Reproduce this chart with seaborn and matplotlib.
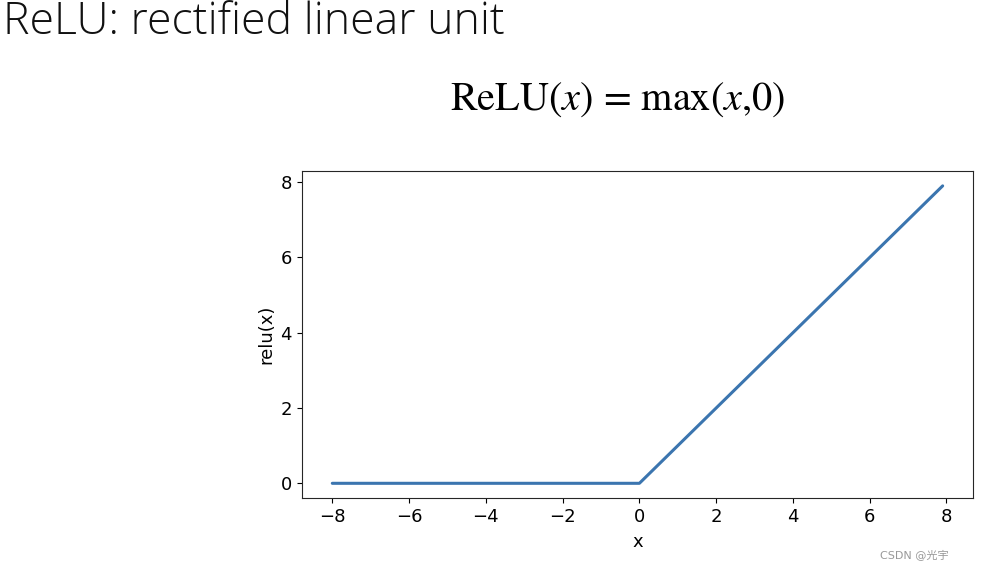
import matplotlib
matplotlib.use('Agg')
import matplotlib.pyplot as plt
import seaborn as sns
import pandas as pd

# breakpoints of the relu curve
x_vals = [-8.0, 0.0, 7.9]
y_vals = [0.0, 0.0, 7.9]
x_ticks = [-8, -6, -4, -2, 0, 2, 4, 6, 8]
y_ticks = [0, 2, 4, 6, 8]

sns.set_style('ticks')
plt.rcParams['font.family'] = ['DejaVu Sans', 'Noto Sans CJK SC']
plt.rcParams['mathtext.fontset'] = 'stix'
plt.rcParams['text.color'] = 'black'
plt.rcParams['axes.labelcolor'] = 'black'
plt.rcParams['xtick.color'] = 'black'
plt.rcParams['ytick.color'] = 'black'

data = pd.DataFrame({'x': x_vals, 'relu(x)': y_vals})

fig = plt.figure(figsize=(9.83, 5.7), dpi=100)
ax = fig.add_axes([0.307, 0.126, 0.683, 0.574])
sns.lineplot(data=data, x='x', y='relu(x)', color='#3b75af', linewidth=2.2, ax=ax)
ax.set_xticks(x_ticks)
ax.set_yticks(y_ticks)
ax.tick_params(labelsize=13)
ax.set_xlabel('x', fontsize=13, labelpad=5)
ax.set_ylabel('relu(x)', fontsize=13)

fig.text(0.003, 0.96, 'ReLU: rectified linear unit', fontsize=32,
         family=['Open Sans', 'DejaVu Sans'], fontweight='light', va='center',
         color='#111111')
fig.text(0.628, 0.825, r'ReLU$(x)$ = max$(x$,0)', fontsize=29,
         family=['STIXGeneral', 'DejaVu Serif'], ha='center', va='center')
fig.text(0.965, 0.02, 'CSDN @光宇', fontsize=8, color='#999999', ha='right',
         family=['DejaVu Sans', 'Noto Sans CJK SC'])

fig.savefig('out.png', dpi=100)
